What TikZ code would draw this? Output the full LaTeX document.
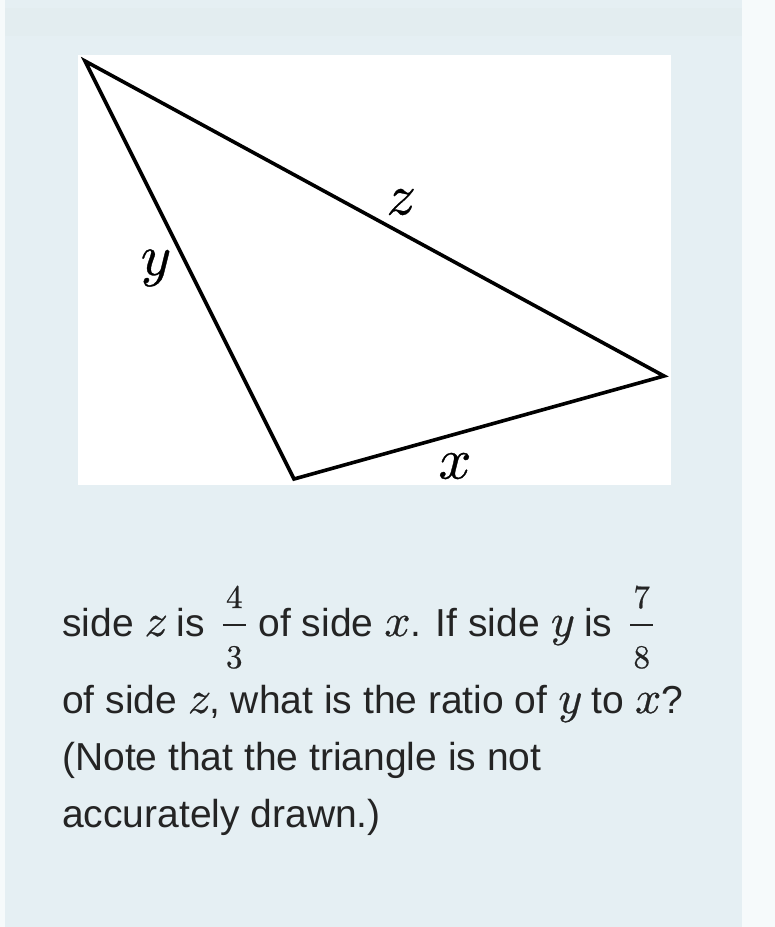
\documentclass[tikz,border=0pt]{standalone}
\usepackage{fontspec}
\setmainfont{Liberation Sans}
% math letters and digits, slightly heavier like the reference
\newfontfamily\varfont[FakeBold=0.6]{Latin Modern Math}

\definecolor{panelblue}{RGB}{229,239,243}
\definecolor{topband}{RGB}{227,237,240}
\definecolor{sidewhite}{RGB}{246,250,251}
\definecolor{inkgray}{RGB}{36,36,36}

\newcommand{\mvar}[1]{{\fontsize{46}{46}\varfont #1}}
% fraction with small digits and tall spacing round the bar
\newcommand{\mfrac}[2]{\hspace{7pt}\makebox[23pt]{%
  \rlap{\raisebox{28pt}{\makebox[23pt]{\fontsize{33}{33}\varfont #1}}}%
  \rlap{\raisebox{10pt}{\rule{23pt}{1.8pt}}}%
  \raisebox{-32pt}{\makebox[23pt]{\fontsize{33}{33}\varfont #2}}}\hspace{2pt}}

\begin{document}
\begin{tikzpicture}[x=1pt,y=-1pt]

    % page and panel background
    \useasboundingbox (0,0) rectangle (775,927);
    \fill[sidewhite] (0,0) rectangle (775,927);
    \fill[panelblue] (5,0) rectangle (742,927);
    \fill[topband] (5,8) rectangle (742,36);
    \fill[white] (78,55) rectangle (671,485);

    % Define coordinates for the vertices of the triangle
    % A is the top-left corner
    \coordinate (A) at (85, 61);
    % B is the bottom corner
    \coordinate (B) at (294, 479);
    % C is the right corner
    \coordinate (C) at (664, 376);

    % Draw the three sides
    \draw[line width=3.6pt] (A) -- (B) -- (C) -- cycle;

    % Side labels
    \node[font=\fontsize{58}{58}\varfont] (lz) at (400, 202) {𝑧};
    \node[font=\fontsize{58}{58}\varfont] (ly) at (155, 268) {𝑦};
    \node[font=\fontsize{58}{58}\varfont] (lx) at (455, 466) {𝑥};

    % Question text, one node per line
    \node[anchor=base west, inner sep=0pt, text=inkgray, font=\fontsize{39}{39}\selectfont] (line1) at (62, 636)
        {side \mvar{𝑧} is \mfrac{4}{3} of side \mvar{𝑥}. If side \mvar{𝑦} is \mfrac{7}{8}};
    \node[anchor=base west, inner sep=0pt, text=inkgray, font=\fontsize{39}{39}\selectfont] (line2) at (62, 713)
        {of side \mvar{𝑧}, what is the ratio of \mvar{𝑦} to \mvar{𝑥}?};
    \node[anchor=base west, inner sep=0pt, text=inkgray, font=\fontsize{39}{39}\selectfont] (line3) at (62, 770)
        {(Note that the triangle is not};
    \node[anchor=base west, inner sep=0pt, text=inkgray, font=\fontsize{39}{39}\selectfont] (line4) at (62, 827)
        {accurately drawn.)};

\end{tikzpicture}
\end{document}
